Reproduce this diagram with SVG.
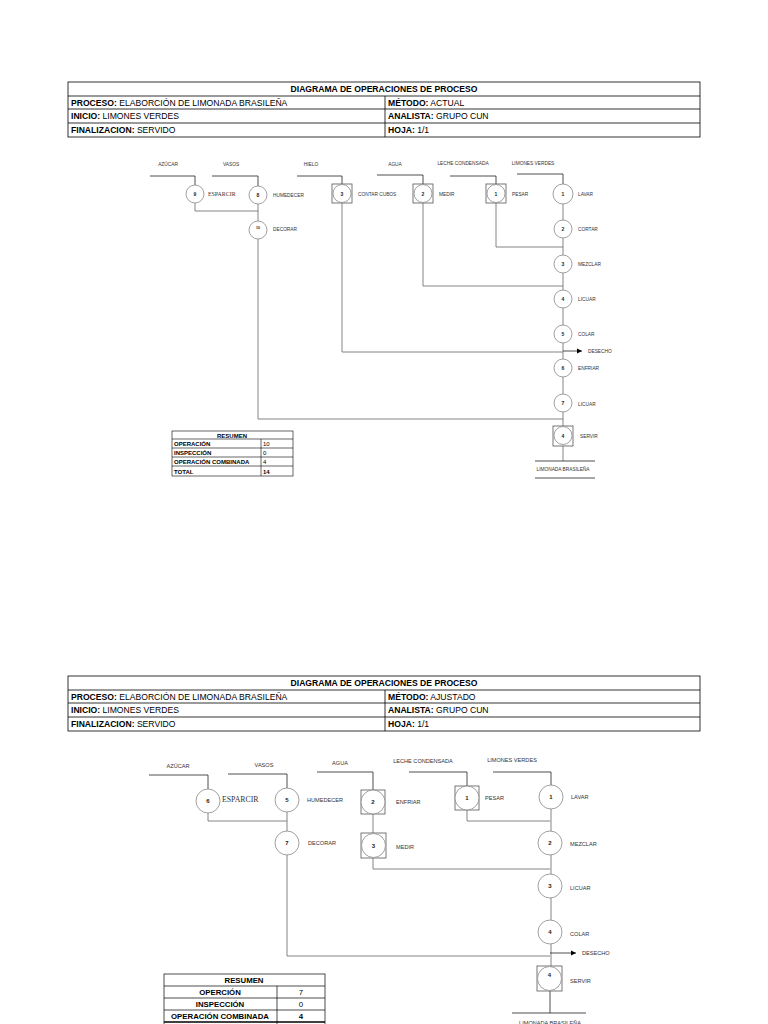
<svg xmlns="http://www.w3.org/2000/svg" width="768" height="1024" viewBox="0 0 768 1024">
<defs>
<marker id="arr" markerWidth="6" markerHeight="6" refX="5" refY="3" orient="auto" markerUnits="userSpaceOnUse"><path d="M0,0.5 L5,3 L0,5.5 Z" fill="#000"/></marker>
<style>
.tb{fill:none;stroke:#000;stroke-width:0.8}
.hd{font-family:"Liberation Sans",Arial,sans-serif;font-size:8.6px;fill:#000}
.b{font-weight:bold}
.c{fill:#fff;stroke:#888;stroke-width:0.8}
.sq{fill:#fff;stroke:#555;stroke-width:0.8}
.ln{fill:none;stroke:#777;stroke-width:0.9}
.in{fill:none;stroke:#222;stroke-width:0.8}
.n{font-family:"Liberation Sans",Arial,sans-serif;font-size:5px;font-weight:bold;text-anchor:middle;fill:#222}
.n2{font-family:"Liberation Sans",Arial,sans-serif;font-size:6px;font-weight:bold;text-anchor:middle;fill:#222}
.l{font-family:"Liberation Sans",Arial,sans-serif;font-size:4.8px;fill:#333}
.l2{font-family:"Liberation Sans",Arial,sans-serif;font-size:5.6px;fill:#333}
.s{font-family:"Liberation Serif","Times New Roman",serif;font-size:5.9px;fill:#333}
.s2{font-family:"Liberation Serif","Times New Roman",serif;font-size:7.8px;fill:#333}
.r{font-family:"Liberation Sans",Arial,sans-serif;font-size:6px;fill:#000}
.r2{font-family:"Liberation Sans",Arial,sans-serif;font-size:7.8px;fill:#000}
</style>
</defs>
<rect width="768" height="1024" fill="#fff"/>

<!-- TOP HEADER -->
<g id="header-top">
<rect class="tb" x="68" y="82" width="632" height="55"/>
<line class="tb" x1="68" y1="96" x2="700" y2="96"/>
<line class="tb" x1="68" y1="109" x2="700" y2="109"/>
<line class="tb" x1="68" y1="123" x2="700" y2="123"/>
<line class="tb" x1="385" y1="96" x2="385" y2="137"/>
<text class="hd b" x="384" y="92" text-anchor="middle">DIAGRAMA DE OPERACIONES DE PROCESO</text>
<text class="hd" x="71" y="105.5"><tspan class="b">PROCESO:</tspan> ELABORCIÓN DE LIMONADA BRASILEÑA</text>
<text class="hd" x="388" y="105.5"><tspan class="b">MÉTODO:</tspan> ACTUAL</text>
<text class="hd" x="71" y="119"><tspan class="b">INICIO:</tspan> LIMONES VERDES</text>
<text class="hd" x="388" y="119"><tspan class="b">ANALISTA:</tspan> GRUPO CUN</text>
<text class="hd" x="71" y="132.5"><tspan class="b">FINALIZACION:</tspan> SERVIDO</text>
<text class="hd" x="388" y="132.5"><tspan class="b">HOJA:</tspan> 1/1</text>
</g>

<!-- TOP CONNECTORS -->
<g id="connectors-top">
<path class="in" d="M150,176 H195 V185"/>
<path class="in" d="M212,176 H258 V186"/>
<path class="in" d="M297,176 H342 V184"/>
<path class="in" d="M377,175 H423 V184"/>
<path class="in" d="M450,176 H496 V184"/>
<path class="in" d="M517,174 H563 V184"/>
<path class="ln" d="M195,203 V211 H258"/>
<path class="ln" d="M258,204 V221"/>
<path class="ln" d="M258,239 V419 H563"/>
<path class="ln" d="M342,203 V352 H563"/>
<path class="ln" d="M423,203 V286 H563"/>
<path class="ln" d="M496,203 V247 H563"/>
<path class="ln" d="M563,204 V426"/>
<path class="ln" d="M563,446 V461"/>
<line class="in" x1="563" y1="351" x2="582" y2="351" marker-end="url(#arr)"/>
<line class="in" x1="535" y1="461" x2="595" y2="461"/>
<line class="in" x1="535" y1="478" x2="595" y2="478"/>
</g>

<!-- TOP NODES -->
<g id="t-azucar"><text class="l" x="168" y="166" text-anchor="middle">AZÚCAR</text></g>
<g id="t-vasos"><text class="l" x="231" y="166" text-anchor="middle">VASOS</text></g>
<g id="t-hielo"><text class="l" x="311" y="166" text-anchor="middle">HIELO</text></g>
<g id="t-agua"><text class="l" x="395" y="166" text-anchor="middle">AGUA</text></g>
<g id="t-leche"><text class="l" x="463" y="165" text-anchor="middle">LECHE CONDENSADA</text></g>
<g id="t-limones"><text class="l" x="533" y="165" text-anchor="middle">LIMONES VERDES</text></g>

<g id="t-op9"><circle class="c" cx="195" cy="194" r="9"/><text class="n" x="195" y="196">9</text><text class="s" x="208" y="196">ESPARCIR</text></g>
<g id="t-op8"><circle class="c" cx="258" cy="195" r="9"/><text class="n" x="258" y="197">8</text><text class="l" x="273" y="197">HUMEDECER</text></g>
<g id="t-op10"><circle class="c" cx="258" cy="230" r="9"/><text class="n" x="258" y="229" style="font-size:3.5px">10</text><text class="l" x="273" y="231">DECORAR</text></g>
<g id="t-c3"><rect class="sq" x="332" y="184" width="20" height="19"/><circle class="c" cx="342" cy="193.5" r="9"/><text class="n" x="342" y="195.5">3</text><text class="l" x="358" y="196">CONTAR CUBOS</text></g>
<g id="t-c2"><rect class="sq" x="413" y="184" width="20" height="19"/><circle class="c" cx="423" cy="193.5" r="9"/><text class="n" x="423" y="195.5">2</text><text class="l" x="439" y="196">MEDIR</text></g>
<g id="t-c1"><rect class="sq" x="486" y="184" width="20" height="19"/><circle class="c" cx="496" cy="193.5" r="9"/><text class="n" x="496" y="195.5">1</text><text class="l" x="512" y="196">PESAR</text></g>
<g id="t-op1"><circle class="c" cx="563" cy="194" r="10"/><text class="n" x="563" y="196">1</text><text class="l" x="578" y="196">LAVAR</text></g>
<g id="t-op2"><circle class="c" cx="563" cy="229" r="9"/><text class="n" x="563" y="231">2</text><text class="l" x="578" y="231">CORTAR</text></g>
<g id="t-op3"><circle class="c" cx="563" cy="264" r="9"/><text class="n" x="563" y="266">3</text><text class="l" x="578" y="266">MEZCLAR</text></g>
<g id="t-op4"><circle class="c" cx="563" cy="299" r="9"/><text class="n" x="563" y="301">4</text><text class="l" x="578" y="301">LICUAR</text></g>
<g id="t-op5"><circle class="c" cx="563" cy="334" r="9"/><text class="n" x="563" y="336">5</text><text class="l" x="578" y="336">COLAR</text></g>
<g id="t-desecho"><text class="l" x="588" y="353">DESECHO</text></g>
<g id="t-op6"><circle class="c" cx="563" cy="368" r="9"/><text class="n" x="563" y="370">6</text><text class="l" x="578" y="370">ENFRIAR</text></g>
<g id="t-op7"><circle class="c" cx="563" cy="403" r="9"/><text class="n" x="563" y="405">7</text><text class="l" x="578" y="406">LICUAR</text></g>
<g id="t-c4"><rect class="sq" x="553" y="426" width="20" height="20"/><circle class="c" cx="563" cy="435.5" r="9"/><text class="n" x="563" y="437.5">4</text><text class="l" x="580" y="438">SERVIR</text></g>
<g id="t-limonada"><text class="l" x="563" y="471" text-anchor="middle">LIMONADA BRASILEÑA</text></g>

<!-- TOP RESUMEN -->
<g id="resumen-top">
<rect class="tb" x="172" y="431" width="121" height="45" style="stroke-width:0.6"/>
<line class="tb" x1="172" y1="439" x2="293" y2="439" style="stroke-width:0.6"/>
<line class="tb" x1="172" y1="448" x2="293" y2="448" style="stroke-width:0.6"/>
<line class="tb" x1="172" y1="457" x2="293" y2="457" style="stroke-width:0.6"/>
<line class="tb" x1="172" y1="466" x2="293" y2="466" style="stroke-width:0.6"/>
<line class="tb" x1="261" y1="439" x2="261" y2="476" style="stroke-width:0.6"/>
<text class="r b" x="232" y="437.5" text-anchor="middle">RESUMEN</text>
<text class="r b" x="174" y="446">OPERACIÓN</text><text class="r" x="263" y="446">10</text>
<text class="r b" x="174" y="455">INSPECCIÓN</text><text class="r" x="263" y="455">0</text>
<text class="r b" x="174" y="464">OPERACIÓN COMBINADA</text><text class="r" x="263" y="464">4</text>
<text class="r b" x="174" y="473.5">TOTAL</text><text class="r b" x="263" y="473.5">14</text>
</g>

<!-- BOTTOM HEADER -->
<g id="header-bottom">
<rect class="tb" x="68" y="676" width="632" height="55"/>
<line class="tb" x1="68" y1="690" x2="700" y2="690"/>
<line class="tb" x1="68" y1="703" x2="700" y2="703"/>
<line class="tb" x1="68" y1="717" x2="700" y2="717"/>
<line class="tb" x1="385" y1="690" x2="385" y2="731"/>
<text class="hd b" x="384" y="686" text-anchor="middle">DIAGRAMA DE OPERACIONES DE PROCESO</text>
<text class="hd" x="71" y="699.5"><tspan class="b">PROCESO:</tspan> ELABORCIÓN DE LIMONADA BRASILEÑA</text>
<text class="hd" x="388" y="699.5"><tspan class="b">MÉTODO:</tspan> AJUSTADO</text>
<text class="hd" x="71" y="713"><tspan class="b">INICIO:</tspan> LIMONES VERDES</text>
<text class="hd" x="388" y="713"><tspan class="b">ANALISTA:</tspan> GRUPO CUN</text>
<text class="hd" x="71" y="726.5"><tspan class="b">FINALIZACION:</tspan> SERVIDO</text>
<text class="hd" x="388" y="726.5"><tspan class="b">HOJA:</tspan> 1/1</text>
</g>

<!-- BOTTOM CONNECTORS -->
<g id="connectors-bottom">
<path class="in" d="M149,775 H208 V789"/>
<path class="in" d="M228,774 H287 V788"/>
<path class="in" d="M317,772 H373 V790"/>
<path class="in" d="M409,772 H467 V786"/>
<path class="in" d="M493,772 H551 V785"/>
<path class="ln" d="M208,813 V821 H287"/>
<path class="ln" d="M287,812 V831"/>
<path class="ln" d="M287,855 V956 H550"/>
<path class="ln" d="M373,814 V833"/>
<path class="ln" d="M373,858 V869 H550"/>
<path class="ln" d="M467,810 V821 H550"/>
<path class="ln" d="M551,809 V966"/>
<path class="in" d="M550,990 V1013"/>
<line class="in" x1="550" y1="953" x2="576" y2="953" marker-end="url(#arr)"/>
<line class="in" x1="512" y1="1013" x2="586" y2="1013"/>
</g>

<!-- BOTTOM NODES -->
<g id="b-azucar"><text class="l2" x="178" y="768" text-anchor="middle">AZÚCAR</text></g>
<g id="b-vasos"><text class="l2" x="264" y="767" text-anchor="middle">VASOS</text></g>
<g id="b-agua"><text class="l2" x="340" y="765" text-anchor="middle">AGUA</text></g>
<g id="b-leche"><text class="l2" x="423" y="763" text-anchor="middle">LECHE CONDENSADA</text></g>
<g id="b-limones"><text class="l2" x="512" y="762" text-anchor="middle">LIMONES VERDES</text></g>

<g id="b-op6"><circle class="c" cx="208" cy="801" r="12"/><text class="n2" x="208" y="803">6</text><text class="s2" x="222" y="802">ESPARCIR</text></g>
<g id="b-op5"><circle class="c" cx="287" cy="800" r="12"/><text class="n2" x="287" y="802">5</text><text class="l2" x="307" y="802">HUMEDECER</text></g>
<g id="b-op7"><circle class="c" cx="287" cy="843" r="12"/><text class="n2" x="287" y="845">7</text><text class="l2" x="308" y="845">DECORAR</text></g>
<g id="b-c2"><rect class="sq" x="361" y="790" width="24" height="24"/><circle class="c" cx="373" cy="802" r="12"/><text class="n2" x="373" y="804">2</text><text class="l2" x="396" y="804">ENFRIAR</text></g>
<g id="b-c3"><rect class="sq" x="361" y="833" width="25" height="25"/><circle class="c" cx="373.5" cy="845.5" r="12"/><text class="n2" x="373.5" y="847.5">3</text><text class="l2" x="396" y="849">MEDIR</text></g>
<g id="b-c1"><rect class="sq" x="455" y="786" width="24" height="24"/><circle class="c" cx="467" cy="798" r="12"/><text class="n2" x="467" y="800">1</text><text class="l2" x="485" y="800">PESAR</text></g>
<g id="b-op1"><circle class="c" cx="551" cy="797" r="12"/><text class="n2" x="551" y="799">1</text><text class="l2" x="571" y="799">LAVAR</text></g>
<g id="b-op2"><circle class="c" cx="550" cy="843" r="12"/><text class="n2" x="550" y="845">2</text><text class="l2" x="570" y="846">MEZCLAR</text></g>
<g id="b-op3"><circle class="c" cx="550" cy="886" r="12"/><text class="n2" x="550" y="888">3</text><text class="l2" x="570" y="890">LICUAR</text></g>
<g id="b-op4"><circle class="c" cx="550" cy="932" r="12"/><text class="n2" x="550" y="934">4</text><text class="l2" x="570" y="936">COLAR</text></g>
<g id="b-desecho"><text class="l2" x="582" y="955">DESECHO</text></g>
<g id="b-c4"><rect class="sq" x="537" y="966" width="25" height="25"/><circle class="c" cx="549.5" cy="978.5" r="12"/><text class="n2" x="549.5" y="977">4</text><text class="l2" x="570" y="983">SERVIR</text></g>
<g id="b-limonada"><text class="l2" x="550" y="1025" text-anchor="middle">LIMONADA BRASILEÑA</text></g>

<!-- BOTTOM RESUMEN -->
<g id="resumen-bottom">
<rect class="tb" x="164" y="974" width="161" height="60" style="stroke-width:0.7"/>
<line class="tb" x1="164" y1="986" x2="325" y2="986" style="stroke-width:0.7"/>
<line class="tb" x1="164" y1="998" x2="325" y2="998" style="stroke-width:0.7"/>
<line class="tb" x1="164" y1="1010" x2="325" y2="1010" style="stroke-width:0.7"/>
<line class="tb" x1="164" y1="1022" x2="325" y2="1022" style="stroke-width:1.4"/>
<line class="tb" x1="277" y1="986" x2="277" y2="1024" style="stroke-width:0.7"/>
<text class="r2 b" x="244" y="983" text-anchor="middle">RESUMEN</text>
<text class="r2 b" x="220" y="995" text-anchor="middle">OPERCIÓN</text><text class="r2" x="301" y="995" text-anchor="middle">7</text>
<text class="r2 b" x="220" y="1007" text-anchor="middle">INSPECCIÓN</text><text class="r2" x="301" y="1007" text-anchor="middle">0</text>
<text class="r2 b" x="220" y="1019" text-anchor="middle">OPERACIÓN COMBINADA</text><text class="r2 b" x="301" y="1019" text-anchor="middle">4</text>
</g>
</svg>
